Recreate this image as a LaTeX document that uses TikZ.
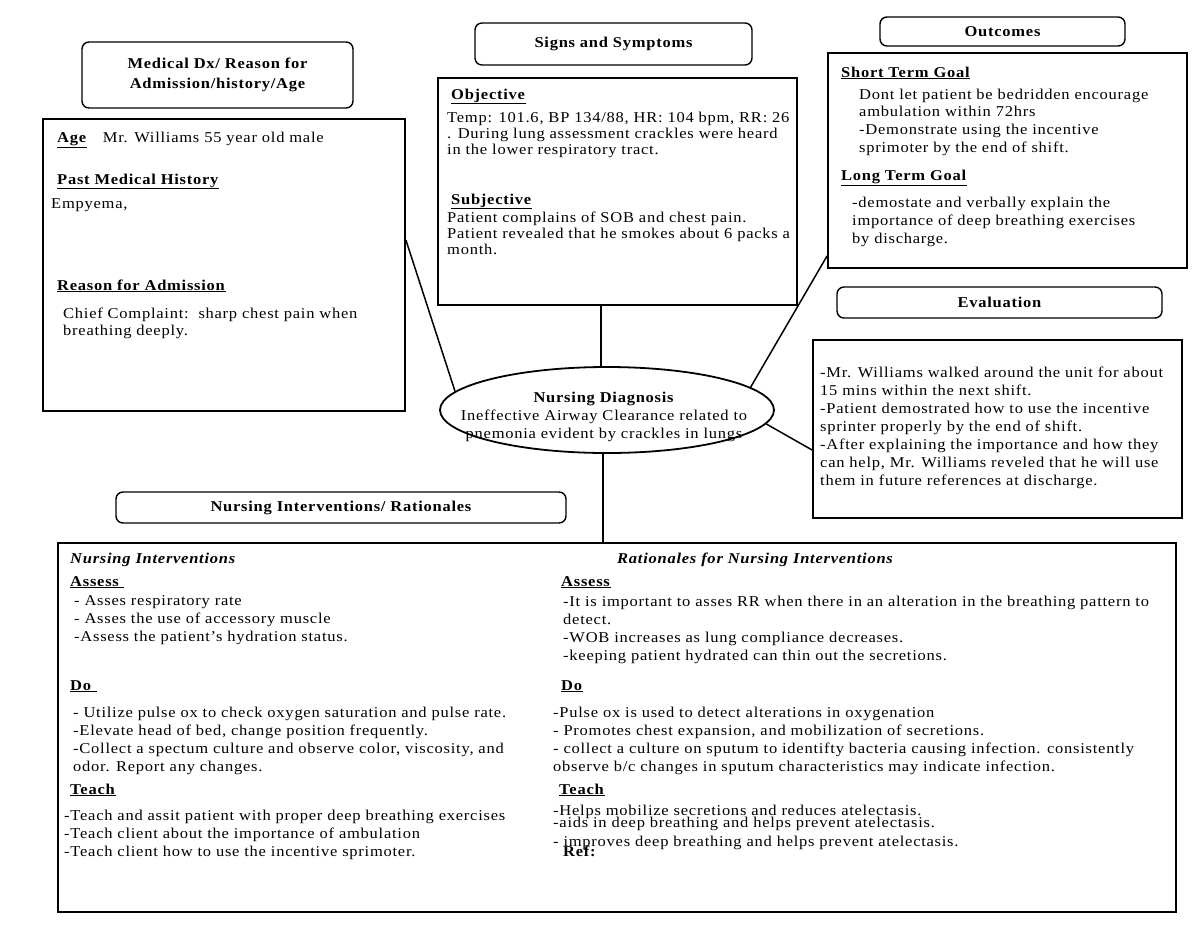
\documentclass[tikz,border=0pt]{standalone}
\usepackage{fontspec}
\setmainfont{Liberation Serif}[FakeStretch=1.1, LetterSpace=5]
\usetikzlibrary{shapes.geometric}
\newcommand{\bodyfont}{\fontsize{15}{18}\selectfont}
\newcommand{\uhead}[1]{\underline{\textbf{#1}}}
\begin{document}
\begin{tikzpicture}[x=1pt, y=-1pt,
  every node/.style={inner sep=0pt, font=\bodyfont},
  hdr/.style={draw, rounded corners=7pt, line width=1.4pt, font=\bodyfont\bfseries, align=center},
  box/.style={draw, line width=1.8pt},
  txt/.style={anchor=base west, align=left},
  conn/.style={line width=1.5pt}]
\path[use as bounding box] (0,0) rectangle (1200,927);

% header boxes
\node[hdr, minimum width=271pt, minimum height=66pt, font=\fontsize{15}{20.5}\selectfont\bfseries] (medhdr) at (217.5,75) {Medical Dx/ Reason for\\Admission/history/Age};
\node[hdr, minimum width=277pt, minimum height=42pt] (sshdr) at (613.5,44) {Signs and Symptoms};
\node[hdr, minimum width=245pt, minimum height=29pt] (outhdr) at (1002.5,31.5) {Outcomes};
\node[hdr, minimum width=325pt, minimum height=31pt] (evalhdr) at (999.5,302.5) {Evaluation};
\node[hdr, minimum width=450pt, minimum height=31pt] (nihdr) at (341,507.5) {Nursing Interventions/ Rationales};

% content boxes
\node[box, minimum width=362pt, minimum height=292pt] (leftbox) at (224,265) {};
\node[box, minimum width=359pt, minimum height=227pt] (objbox) at (617.5,191.5) {};
\node[box, minimum width=359pt, minimum height=215pt] (outbox) at (1007.5,160.5) {};
\node[box, minimum width=369pt, minimum height=178pt] (evalbox) at (997.5,429) {};
\node[box, minimum width=1118pt, minimum height=369pt] (bigbox) at (617,727.5) {};
\node[draw, ellipse, line width=1.8pt, minimum width=334pt, minimum height=86pt] (diag) at (607,410) {};
\node[align=center, anchor=base] (diagtxt) at (604,438) {\textbf{Nursing Diagnosis}\\Ineffective Airway Clearance related to\\pnemonia evident by crackles in lungs};

% connectors
\draw[conn] ([yshift=25pt]leftbox.east) -- (diag.173);
\draw[conn] ([xshift=-16.5pt]objbox.south) -- ([xshift=-16.5pt]objbox.south |- diag.north);
\draw[conn] ([yshift=13pt]outbox.south west) -- (diag.9);
\draw[conn] (diag.-5) -- ([yshift=-21pt]evalbox.west);
\draw[conn] ([xshift=-4pt]diag.south) -- ([xshift=-4pt]diag.south |- bigbox.north);

% left box
\node[txt] (age) at (57,142) {\uhead{Age}\hspace{16pt}Mr. Williams 55 year old male};
\node[txt] (pmh) at (57,184) {\uhead{Past Medical History}};
\node[txt] (emp) at (51,208) {Empyema,};
\node[txt] (rfa) at (57,290) {\uhead{Reason for Admission}};
\node[txt, font=\fontsize{15}{17}\selectfont] (cc) at (63,335) {Chief Complaint:\ \ sharp chest pain when\\breathing deeply.};

% signs and symptoms
\node[txt] (objh) at (451,99) {\uhead{Objective}};
\node[txt, font=\fontsize{15}{16.3}\selectfont] (objt) at (447,154.6) {Temp: 101.6, BP 134/88, HR: 104 bpm, RR: 26\\. During lung assessment crackles were heard\\in the lower respiratory tract.};
\node[txt] (subh) at (451,204) {\uhead{Subjective}};
\node[txt, font=\fontsize{15}{16.3}\selectfont] (subt) at (447,254.6) {Patient complains of SOB and chest pain.\\Patient revealed that he smokes about 6 packs a\\month.};

% outcomes
\node[txt] (stg) at (841,77) {\uhead{Short Term Goal}};
\node[txt, font=\fontsize{15}{17.8}\selectfont] (stgt) at (859,152.4) {Dont let patient be bedridden encourage\\ambulation within 72hrs\\-Demonstrate using the incentive\\sprimoter by the end of shift.};
\node[txt] (ltg) at (841,180) {\uhead{Long Term Goal}};
\node[txt] (ltgt) at (852,243) {-demostate and verbally explain the\\importance of deep breathing exercises\\by discharge.};

% evaluation
\node[txt] (evt) at (820,485) {-Mr. Williams walked around the unit for about\\15 mins within the next shift.\\-Patient demostrated how to use the incentive\\sprinter properly by the end of shift.\\-After explaining the importance and how they\\can help, Mr. Williams reveled that he will use\\them in future references at discharge.};

% interventions
\node[txt] (nih) at (70,563) {\textbf{\textit{Nursing Interventions}}};
\node[txt] (ash) at (70,586) {\underline{\textbf{Assess}\ }};
\node[txt] (ast) at (74,641) {- Asses respiratory rate\\- Asses the use of accessory muscle\\-Assess the patient’s hydration status.};
\node[txt] (doh) at (70,690) {\underline{\textbf{Do}\ }};
\node[txt] (dot) at (73,771) {- Utilize pulse ox to check oxygen saturation and pulse rate.\\-Elevate head of bed, change position frequently.\\-Collect a spectum culture and observe color, viscosity, and\\odor. Report any changes.};
\node[txt] (teh) at (70,794) {\uhead{Teach}};
\node[txt] (tet) at (64,856) {-Teach and assit patient with proper deep breathing exercises\\-Teach client about the importance of ambulation\\-Teach client how to use the incentive sprimoter.};

% rationales
\node[txt] (rath) at (617,563) {\textbf{\textit{Rationales for Nursing Interventions}}};
\node[txt] (rash) at (561,586) {\uhead{Assess}};
\node[txt] (rast) at (563,660) {-It is important to asses RR when there in an alteration in the breathing pattern to\\detect.\\-WOB increases as lung compliance decreases.\\-keeping patient hydrated can thin out the secretions.};
\node[txt] (rdoh) at (561,690) {\uhead{Do}};
\node[txt] (rdot) at (553,771) {-Pulse ox is used to detect alterations in oxygenation\\- Promotes chest expansion, and mobilization of secretions.\\- collect a culture on sputum to identifty bacteria causing infection. consistently\\observe b/c changes in sputum characteristics may indicate infection.};
\node[txt] (rteh) at (559,794) {\uhead{Teach}};
\node[txt] (rt1) at (553,815) {-Helps mobilize secretions and reduces atelectasis.};
\node[txt] (rt2) at (553,827) {-aids in deep breathing and helps prevent atelectasis.};
\node[txt] (rt3) at (553,846) {- improves deep breathing and helps prevent atelectasis.};
\node[txt] (ref) at (563,856) {\textbf{Ref:}};
\end{tikzpicture}
\end{document}
